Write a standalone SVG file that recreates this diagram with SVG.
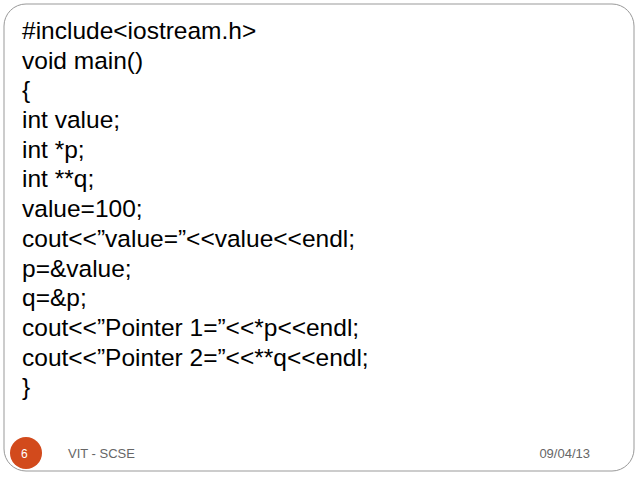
<svg xmlns="http://www.w3.org/2000/svg" width="638" height="478" viewBox="0 0 638 478">
<style>
.code{font-family:"Liberation Sans",Arial,sans-serif;font-size:24.5px;fill:#000}
.ft{font-family:"Liberation Sans",Arial,sans-serif;font-size:13px;fill:#666}
</style>
<rect width="638" height="478" fill="#fff"/>
<g id="frame"><rect x="4" y="4" width="630" height="467" rx="22" fill="none" stroke="#999" stroke-width="1"/></g>
<g id="code">
<text class="code" x="22" y="39">#include&lt;iostream.h&gt;</text>
<text class="code" x="22" y="69">void main()</text>
<text class="code" x="22" y="98">{</text>
<text class="code" x="22" y="128">int value;</text>
<text class="code" x="22" y="158">int *p;</text>
<text class="code" x="22" y="187">int **q;</text>
<text class="code" x="22" y="217">value=100;</text>
<text class="code" x="22" y="247">cout&lt;&lt;”value=”&lt;&lt;value&lt;&lt;endl;</text>
<text class="code" x="22" y="277">p=&amp;value;</text>
<text class="code" x="22" y="306">q=&amp;p;</text>
<text class="code" x="22" y="336">cout&lt;&lt;”Pointer 1=”&lt;&lt;*p&lt;&lt;endl;</text>
<text class="code" x="22" y="366">cout&lt;&lt;”Pointer 2=”&lt;&lt;**q&lt;&lt;endl;</text>
<text class="code" x="22" y="395">}</text>
</g>
<g id="footer">
<circle cx="26" cy="453" r="16" fill="#D24A1C"/>
<text x="21" y="458" font-family="Liberation Sans,Arial,sans-serif" font-size="12" fill="#fff">6</text>
<text class="ft" x="68" y="458">VIT - SCSE</text>
<text class="ft" x="590" y="458" text-anchor="end">09/04/13</text>
</g>
</svg>
